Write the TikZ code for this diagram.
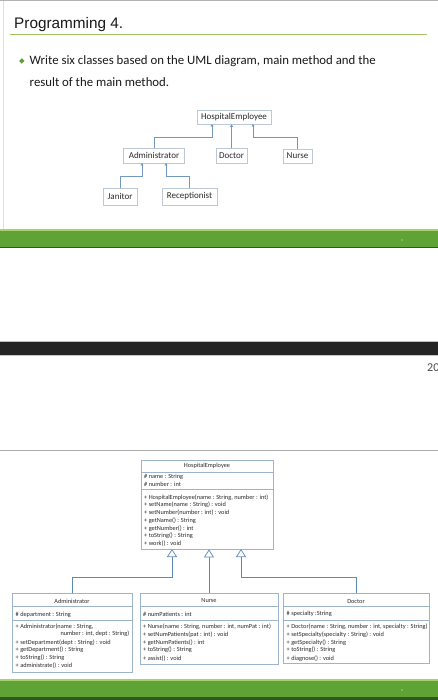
\documentclass[tikz,border=0pt]{standalone}
\usepackage{fontspec}
\setmainfont{Carlito}
\newfontfamily\arialf{Liberation Sans}
\usetikzlibrary{arrows.meta}
\definecolor{boxb}{HTML}{9DB4CE}
\definecolor{tboxb}{HTML}{BCC8D6}
\definecolor{connb}{HTML}{5D89B6}
\definecolor{tconnb}{HTML}{7298C0}
\definecolor{txt}{HTML}{2A2A2A}
\definecolor{gmain}{HTML}{5FA235}
\definecolor{glight}{HTML}{A6D26C}
\definecolor{gdark}{HTML}{2F5A1F}
\definecolor{tline}{HTML}{A3C464}
\definecolor{bullet}{HTML}{5E9F36}
\tikzset{
  tbox/.style={draw=tboxb, fill=white, line width=0.7pt, inner sep=0pt, font=\fontsize{9}{10}\selectfont, text=txt},
  tconn/.style={draw=tconnb, line width=0.9pt, -{Triangle[length=2.5pt,width=3pt]}},
  ubox/.style={draw=boxb, line width=0.7pt, fill=white, inner sep=0pt},
  udiv/.style={draw=boxb, line width=0.7pt},
  uconn/.style={draw=connb, line width=0.9pt, -{Triangle[length=8pt,width=10pt,fill=white,line width=0.7pt]}},
  utxt/.style={font=\fontsize{6.3}{7}\selectfont, text=txt, inner sep=0pt, anchor=west},
  uttl/.style={font=\fontsize{6.3}{7}\selectfont, text=txt, inner sep=0pt},
}
\begin{document}
\begin{tikzpicture}[x=1pt,y=-1pt]
\useasboundingbox (0,0) rectangle (438,700);
\fill[white] (0,0) rectangle (438,700);
% top slide frame
\draw[gray!60, line width=1pt] (0,0.5) -- (438,0.5);
\draw[gray!25, line width=0.8pt] (3,1) -- (3,229);
% title
\node[anchor=base west, inner sep=0pt, font=\arialf\fontsize{15.3}{17}\selectfont, text=black!90] (title) at (14,29) {Programming 4.};
\draw[tline, line width=1.3pt] (10,34.8) -- (427,34.8);
% bullet and text
\fill[bullet] (21.8,58.3) -- (24.5,61) -- (21.8,63.7) -- (19.1,61) -- cycle;
\node[anchor=base west, inner sep=0pt, font=\fontsize{12.8}{15}\selectfont, text=black!90] (l1) at (29.5,65) {Write six classes based on the UML diagram, main method and the};
\node[anchor=base west, inner sep=0pt, font=\fontsize{12.8}{15}\selectfont, text=black!90] (l2) at (29.5,86.5) {result of the main method.};
% top UML
\node[tbox, minimum width=74pt, minimum height=14pt] (tHE) at (234,117) {HospitalEmployee};
\node[tbox, minimum width=61pt, minimum height=15pt] (tAdm) at (154,155.5) {Administrator};
\node[tbox, minimum width=31pt, minimum height=15pt] (tDoc) at (231.5,155.5) {Doctor};
\node[tbox, minimum width=29pt, minimum height=14pt] (tNur) at (297.5,156) {Nurse};
\node[tbox, minimum width=34pt, minimum height=17pt] (tJan) at (120,196.5) {Janitor};
\node[tbox, minimum width=55pt, minimum height=17pt] (tRec) at (189.5,196.5) {Receptionist};
\coordinate (tHEa) at (212,124);
\coordinate (tHEc) at (253,124);
\coordinate (tAdmj) at (142,163);
\coordinate (tAdmr) at (166,163);
\draw[tconn] (tAdm.north) -- ++(0,-10) -| (tHEa);
\draw[tconn] (tDoc.north) -- (tDoc.north |- tHE.south);
\draw[tconn] (tNur.north) -- ++(0,-11) -| (tHEc);
\draw[tconn] (tJan.north) -- ++(0,-11) -| (tAdmj);
\draw[tconn] (tRec.north) -- ++(0,-11) -| (tAdmr);
% upper green bar
\fill[gmain] (0,229) rectangle (438,248);
\fill[glight] (0,229) rectangle (438,231.3);
\fill[gdark] (0,246.8) rectangle (438,248.2);
\fill[glight] (402,240) circle (0.9);
% black bar
\fill[gray!50] (0,341) rectangle (438,342.2);
\fill[black!86] (0,342.2) rectangle (438,354.5);
\fill[gray!45] (0,354.5) rectangle (438,355.6);
\node[anchor=base west, inner sep=0pt, font=\fontsize{12}{14}\selectfont, text=black!70] (pg) at (427,371) {20};
% bottom slide
\draw[gray!90!black!60, line width=1.6pt] (0,450.5) -- (438,450.5);
% HospitalEmployee
\node[ubox, minimum width=132pt, minimum height=89pt] (he) at (207,504.5) {};
\draw[udiv] (141,472) -- (273,472);
\draw[udiv] (141,489) -- (273,489);
\node[uttl] (heT) at (207,466) {HospitalEmployee};
\node[utxt] (heA1) at (144,476.7) {\# name : String};
\node[utxt] (heA2) at (144,484.3) {\# number : int};
\node[utxt] (heM1) at (144,497.3) {+ HospitalEmployee(name : String, number : int)};
\node[utxt] (heM2) at (144,505) {+ setName(name : String) : void};
\node[utxt] (heM3) at (144,512.7) {+ setNumber(number : int) : void};
\node[utxt] (heM4) at (144,520.7) {+ getName() : String};
\node[utxt] (heM5) at (144,528.3) {+ getNumber() : int};
\node[utxt] (heM6) at (144,536) {+ toString() : String};
\node[utxt] (heM7) at (144,544) {+ work() : void};
% Administrator
\node[ubox, minimum width=120pt, minimum height=79pt] (adm) at (72,632.5) {};
\draw[udiv] (12,606) -- (132,606);
\draw[udiv] (12,620) -- (132,620);
\node[uttl] (admT) at (72,601.5) {Administrator};
\node[utxt] (admA1) at (15.5,614.5) {\# department : String};
\node[utxt] (admM1) at (15.5,626.7) {+ Administrator(name : String,};
\node[utxt, anchor=east] (admM1b) at (129.5,634) {number : int, dept : String)};
\node[utxt] (admM2) at (15.5,642.5) {+ setDepartment(dept : String) : void};
\node[utxt] (admM3) at (15.5,650) {+ getDepartment() : String};
\node[utxt] (admM4) at (15.5,657.7) {+ toString() : String};
\node[utxt] (admM5) at (15.5,665.7) {+ administrate() : void};
% Nurse
\node[ubox, minimum width=138pt, minimum height=71pt] (nur) at (209,628.5) {};
\draw[udiv] (140,606) -- (278,606);
\draw[udiv] (140,620) -- (278,620);
\node[uttl] (nurT) at (209,600.5) {Nurse};
\node[utxt] (nurA1) at (143,614.5) {\# numPatients : int};
\node[utxt] (nurM1) at (143,626.7) {+ Nurse(name : String, number : int, numPat : int)};
\node[utxt] (nurM2) at (143,635) {+ setNumPatients(pat : int) : void};
\node[utxt] (nurM3) at (143,642.5) {+ getNumPatients() : int};
\node[utxt] (nurM4) at (143,650) {+ toString() : String};
\node[utxt] (nurM5) at (143,658.3) {+ assist() : void};
% Doctor
\node[ubox, minimum width=146pt, minimum height=70pt] (doc) at (356,628) {};
\draw[udiv] (283,606) -- (429,606);
\draw[udiv] (283,620) -- (429,620);
\node[uttl] (docT) at (356,601.5) {Doctor};
\node[utxt] (docA1) at (286.5,614.3) {\# specialty :String};
\node[utxt] (docM1) at (286.5,626.7) {+ Doctor(name : String, number : int, specialty : String)};
\node[utxt] (docM2) at (286.5,635) {+ setSpecialty(specialty : String) : void};
\node[utxt] (docM3) at (286.5,642.5) {+ getSpecialty() : String};
\node[utxt] (docM4) at (286.5,650) {+ toString() : String};
\node[utxt] (docM5) at (286.5,658.3) {+ diagnose() : void};
% connectors
\coordinate (heA) at (172,549);
\coordinate (heC) at (241,549);
\draw[uconn] (adm.north) -- ++(0,-15) -| (heA);
\draw[uconn] (nur.north) -- (nur.north |- he.south);
\draw[uconn] (doc.north) -- ++(0,-15) -| (heC);
% bottom green bar
\fill[gmain] (0,679) rectangle (438,700);
\fill[glight] (0,679) rectangle (438,681.3);
\fill[gdark] (0,697) rectangle (438,700);
\fill[glight] (402,690) circle (0.9);
\end{tikzpicture}
\end{document}
